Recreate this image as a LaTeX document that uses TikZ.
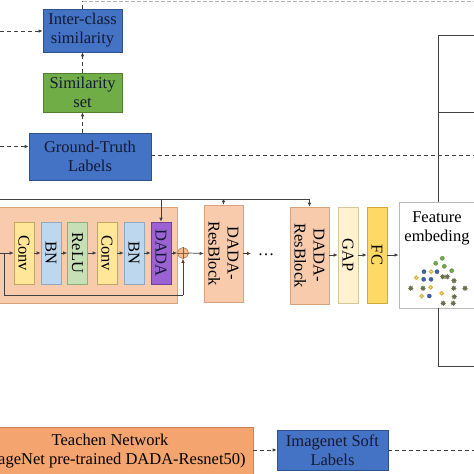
\documentclass[tikz,border=0pt]{standalone}
\usepackage{fontspec}
\setmainfont{Liberation Serif}
\usetikzlibrary{arrows.meta,shapes.geometric}
\definecolor{bluef}{HTML}{4472C4}
\definecolor{blued}{HTML}{2F528F}
\definecolor{greenf}{HTML}{70AD47}
\definecolor{greend}{HTML}{507E32}
\definecolor{contf}{HTML}{F8CBAD}
\definecolor{contd}{HTML}{D8A27E}
\definecolor{convf}{HTML}{FFE699}
\definecolor{convd}{HTML}{BFA860}
\definecolor{bnf}{HTML}{BDD7EE}
\definecolor{bnd}{HTML}{8FA8C4}
\definecolor{reluf}{HTML}{C5E0B4}
\definecolor{relud}{HTML}{8FAE7C}
\definecolor{dadaf}{HTML}{9A62D2}
\definecolor{dadad}{HTML}{6E3FA0}
\definecolor{gapf}{HTML}{FFF2CC}
\definecolor{gapd}{HTML}{D6C79A}
\definecolor{fcf}{HTML}{FFD966}
\definecolor{fcd}{HTML}{CFA93A}
\definecolor{teachf}{HTML}{F4A46E}
\definecolor{teachd}{HTML}{C98252}
\definecolor{linec}{HTML}{404040}
\definecolor{txtb}{HTML}{141A33}
\definecolor{dotg}{HTML}{6FA84A}
\definecolor{dotb}{HTML}{3F5FA8}
\definecolor{doty}{HTML}{D4B43C}
\definecolor{dotst}{HTML}{66704A}
\begin{document}
\begin{tikzpicture}[x=1pt,y=-1pt,
  every node/.style={font=\fontsize{16.5}{19}\selectfont, inner sep=0pt, align=center},
  bluebox/.style={draw=blued, fill=bluef, text=txtb, line width=0.6pt},
  greenbox/.style={draw=greend, fill=greenf, text=txtb, line width=0.6pt},
  blk/.style={minimum width=20pt, minimum height=62pt, line width=0.6pt},
  tall/.style={minimum width=20pt, minimum height=96pt, line width=0.6pt},
  rot/.style={rotate=-90},
  sarrow/.style={draw=linec, line width=0.7pt, -{Latex[length=4pt,width=3.5pt]}},
  sline/.style={draw=linec, line width=0.7pt},
  darrow/.style={draw=linec, line width=0.8pt, dash pattern=on 4pt off 3pt, -{Latex[length=4pt,width=3.5pt]}},
  dline/.style={draw=linec, line width=0.8pt, dash pattern=on 4pt off 3pt},
  gdline/.style={draw=gray!60, line width=1.2pt, dash pattern=on 4pt off 2pt},
  dotc/.style={circle, minimum size=4.2pt, inner sep=0pt},
  starmark/.style={star, star points=8, star point ratio=1.8, minimum size=5.2pt, inner sep=0pt, fill=dotst, draw=dotst, line width=0.2pt},
]
\useasboundingbox (0,0) rectangle (474,474);
\clip (0,0) rectangle (474,474);

% top part
\node[bluebox, minimum width=79pt, minimum height=43pt] (inter) at (82.5,30.5) {Inter-class\\similarity};
\node[greenbox, minimum width=79pt, minimum height=39pt] (simset) at (82.5,92.5) {Similarity\\set};
\node[bluebox, minimum width=122pt, minimum height=47pt] (gt) at (90,156.5) {Ground-Truth\\Labels};

\coordinate (inL) at (0,31);
\coordinate (gtL) at (0,146.5);
\coordinate (topC) at (82.5,1.2);
\coordinate (topR) at (474,1.2);
\coordinate (gtR) at (474,155.5);
\draw[darrow] (inL) -- (inter.west |- inL);
\draw[darrow] (gtL) -- (gt.west |- gtL);
\draw[darrow] (gt.north -| simset.south) -- (simset.south);
\draw[darrow] (simset.north) -- (inter.south);
\draw[dline] (inter.north) -- (topC);
\draw[gdline] (topC) -- (topR);
\draw[dline] (gt.east |- gtR) -- (gtR);

% right bracket lines
\coordinate (v1) at (438,35);
\coordinate (h1) at (474,35);
\coordinate (v2) at (438,112);
\coordinate (h2) at (474,112);
\coordinate (v3) at (438,366);
\coordinate (h3) at (474,366);

% main row container
\node[draw=contd, fill=contf, line width=0.6pt, minimum width=187pt, minimum height=96pt] (cont) at (83.5,255) {};
\node[blk, draw=convd, fill=convf] (c1) at (24,253) {};
\node[rot] at (c1) {Conv};
\node[blk, draw=bnd, fill=bnf] (b1) at (51,253) {};
\node[rot] at (b1) {BN};
\node[blk, draw=relud, fill=reluf] (r1) at (77.5,253) {};
\node[rot] at (r1) {ReLU};
\node[blk, draw=convd, fill=convf] (c2) at (107,253) {};
\node[rot] at (c2) {Conv};
\node[blk, draw=bnd, fill=bnf] (b2) at (134,253) {};
\node[rot] at (b2) {BN};
\node[blk, draw=dadad, fill=dadaf] (dada) at (161,253) {};
\node[rot, text=txtb] at (dada) {DADA};
\node[circle, draw=contd!80!black, fill=contf!80!orange, line width=0.6pt, minimum size=11pt] (plus) at (183,253) {};
\draw[draw=contd!60!black, line width=0.6pt] (plus.north) -- (plus.south) (plus.west) -- (plus.east);

\node[draw=contd, fill=contf, line width=0.6pt, minimum width=39pt, minimum height=97pt] (rb1) at (223.5,253.5) {};
\node[rot] at (rb1) {DADA-\\ResBlock};
\node (ell) at (266,255) {\dots};
\node[draw=contd, fill=contf, line width=0.6pt, minimum width=39pt, minimum height=97pt] (rb2) at (309.5,255.5) {};
\node[rot] at (rb2) {DADA-\\ResBlock};
\node[tall, draw=gapd, fill=gapf] (gap) at (348,255) {};
\node[rot] at (gap) {GAP};
\node[tall, draw=fcd, fill=fcf] (fc) at (377,255) {};
\node[rot] at (fc) {FC};
\node[draw=gray!55, fill=white, line width=0.8pt, minimum width=84pt, minimum height=106pt] (feat) at (441,255) {};
\node (feattxt) at (437,228) {Feature\\embeding};

% feature dots
\foreach \p in {(442.3,258.3),(435.7,263.3),(444.3,266.3),(451.7,270.7)}
  \node[dotc, fill=dotg, draw=dotg!70!black, line width=0.2pt] at \p {};
\foreach \p in {(424,271.7),(437,271.7),(423.7,279.3),(431,279.3),(429.3,296)}
  \node[dotc, fill=dotb, draw=dotb!70!black, line width=0.2pt] at \p {};
\foreach \p in {(431,271.7),(416.3,277.7),(430.7,287.3),(421.7,296),(441.7,293.3)}
  \node[dotc, fill=white, draw=doty, line width=1.2pt, minimum size=3.4pt] at \p {};
\foreach \p in {(442.7,276.7),(447.3,276.7),(454,280.7),(410.7,288.3),(423,288.3),(453.7,288.3),(465,288.3),(454.3,296.7),(443.3,303.3),(453.3,303.3)}
  \node[starmark] at \p {};

% vertical bracket line
\draw[sline] (h1) -- (v1) -- (feat.north -| v1);
\draw[sline] (v2) -- (h2);
\draw[sline] (feat.south -| v3) -- (v3) -- (h3);

% main row connectors
\coordinate (in0) at (0,253);
\coordinate (top0) at (0,199);
\coordinate (topE) at (309.5,199);
\coordinate (sk0) at (4,253);
\coordinate (sk1) at (4,295);
\coordinate (sk2) at (183,295);
\draw[sline] (top0) -- (topE);
\draw[sarrow] (dada.north |- top0) -- (dada.north);
\draw[sarrow] (rb1.north |- top0) -- (rb1.north);
\draw[sarrow] (topE) -- (rb2.north);
\draw[sarrow] (in0) -- (c1.west);
\draw[sarrow] (c1.east) -- (b1.west);
\draw[sarrow] (b1.east) -- (r1.west);
\draw[sarrow] (r1.east) -- (c2.west);
\draw[sarrow] (c2.east) -- (b2.west);
\draw[sarrow] (b2.east) -- (dada.west);
\draw[sarrow] (dada.east) -- (plus.west);
\draw[sline] (sk0) -- (sk1) -- (sk2);
\draw[sarrow] (sk2) -- (plus.south);
\draw[sarrow] (plus.east) -- (rb1.west);
\coordinate (ellA) at (251,253.5);
\draw[sarrow] (rb1.east) -- (ellA);
\draw[sarrow] (rb2.east |- gap) -- (gap.west);
\draw[sarrow] (gap.east) -- (fc.west);
\draw[sarrow] (fc.east) -- (fc.east -| feat.west);

% bottom
\node[draw=teachd, fill=teachf, line width=0.6pt, minimum width=286pt, minimum height=52pt] (teach) at (110,453) {};
\node at (110,451) {Teachen Network\\(ImageNet pre-trained DADA-Resnet50)};
\node[bluebox, minimum width=111pt, minimum height=40pt] (soft) at (332.5,450) {Imagenet Soft\\Labels};
\coordinate (softR) at (474,450);
\draw[darrow] (teach.east |- soft) -- (soft.west);
\draw[dline] (soft.east) -- (softR);
\end{tikzpicture}
\end{document}
